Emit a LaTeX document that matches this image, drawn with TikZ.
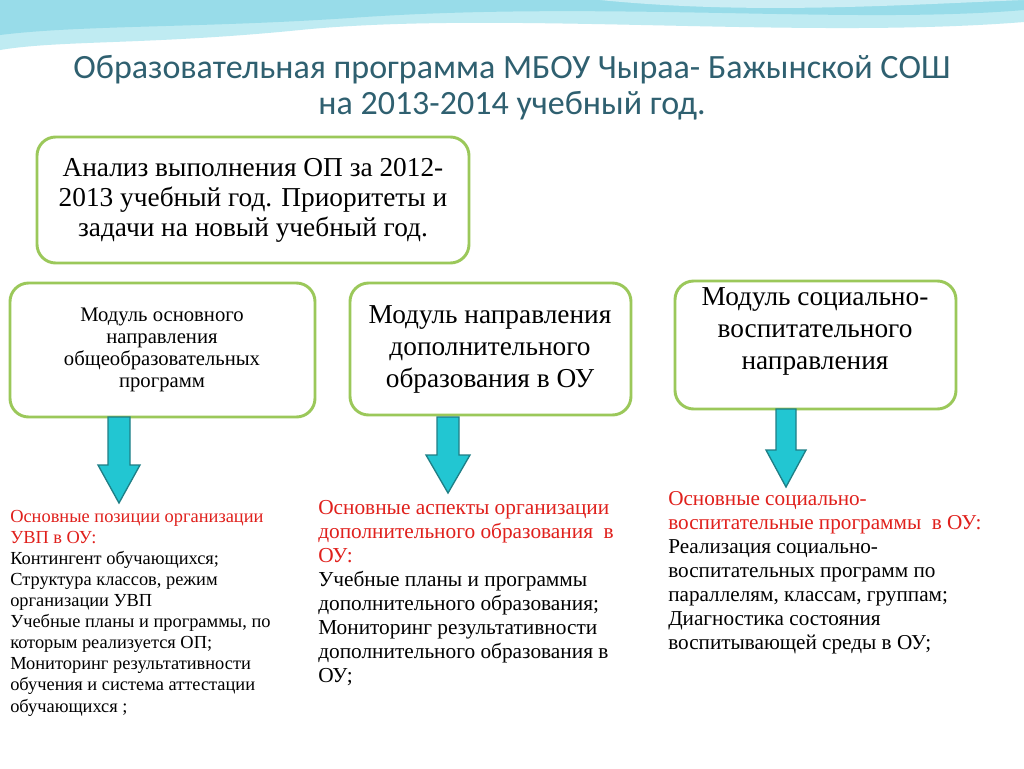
\documentclass[tikz,border=0pt]{standalone}
\usepackage{fontspec}
\setmainfont{Liberation Serif}
\newfontfamily\titlefont{Carlito}
\definecolor{boxgreen}{HTML}{9BC85A}
\definecolor{titlecol}{HTML}{2F6070}
\definecolor{arrfill}{HTML}{22C6D2}
\definecolor{arrline}{HTML}{1F7F86}
\definecolor{wave1}{HTML}{BFEBF2}
\definecolor{wave2}{HTML}{7FD3E3}
\definecolor{redtxt}{HTML}{E0201C}
\tikzset{
  mbox/.style={draw=boxgreen,line width=2.2pt,rounded corners=14pt,fill=white},
  barrow/.style={fill=arrfill,draw=arrline,line width=1pt},
  btext/.style={anchor=north west,align=left,inner sep=0pt}
}
\begin{document}
\begin{tikzpicture}[x=0.75pt,y=-0.75pt]
\useasboundingbox (0,0) rectangle (1024,768);
\fill[white] (0,0) rectangle (1024,768);
% header waves
\fill[wave1] (0,0) -- (1024,0) -- (1024,22) .. controls (800,40) and (500,10) .. (300,30) .. controls (150,45) and (60,40) .. (0,50) -- cycle;
\fill[wave2,opacity=0.6] (0,0) -- (1024,0) -- (1024,10) .. controls (850,25) and (600,0) .. (350,18) .. controls (200,28) and (80,25) .. (0,35) -- cycle;
\fill[white,opacity=0.5] (600,0) .. controls (750,15) and (900,5) .. (1024,0) -- cycle;
% title
\node[font=\titlefont\fontsize{25.5}{27}\selectfont,text=titlecol,align=center] (title) at (512,88) {Образовательная программа МБОУ Чыраа- Бажынской СОШ\\на 2013-2014 учебный год.};
% boxes
\draw[mbox] (37,137) rectangle (469,263);
\node[align=center,font=\fontsize{20.5}{22.5}\selectfont] (b1) at (253,200) {Анализ выполнения ОП за 2012-\\2013 учебный год. Приоритеты и\\задачи на новый учебный год.};
\draw[mbox] (10,283) rectangle (315,417);
\node[align=center,font=\fontsize{15.5}{16.5}\selectfont] (b2) at (162,350) {Модуль основного\\направления\\общеобразовательных\\программ};
\draw[mbox] (350,283) rectangle (631,415);
\node[align=center,font=\fontsize{20.5}{24}\selectfont] (b3) at (490,349) {Модуль направления\\дополнительного\\образования в ОУ};
\draw[mbox] (675,281) rectangle (956,409);
\node[align=center,font=\fontsize{20.5}{24}\selectfont] (b4) at (815,331) {Модуль социально-\\воспитательного\\направления};
% block arrows
\draw[barrow] (108,417) -- (130,417) -- (130,465) -- (140,465) -- (119,503) -- (98,465) -- (108,465) -- cycle;
\draw[barrow] (437,417) -- (459,417) -- (459,455) -- (470,455) -- (448,493) -- (426,455) -- (437,455) -- cycle;
\draw[barrow] (776,409) -- (796,409) -- (796,450) -- (806,450) -- (786,487) -- (766,450) -- (776,450) -- cycle;
% texts
\node[btext,font=\fontsize{13.8}{15.8}\selectfont] (t1) at (10,510) {\textcolor{redtxt}{Основные позиции организации}\\\textcolor{redtxt}{УВП в ОУ:}\\Контингент обучающихся;\\Структура классов, режим\\организации УВП\\Учебные планы и программы, по\\которым реализуется ОП;\\Мониторинг результативности\\обучения и система аттестации\\обучающихся ;};
\node[btext,font=\fontsize{16}{18}\selectfont] (t2) at (318,500) {\textcolor{redtxt}{Основные аспекты организации}\\\textcolor{redtxt}{дополнительного образования\ \ в}\\\textcolor{redtxt}{ОУ:}\\Учебные планы и программы\\дополнительного образования;\\Мониторинг результативности\\дополнительного образования в\\ОУ;};
\node[btext,font=\fontsize{15.9}{18}\selectfont] (t3) at (668,491) {\textcolor{redtxt}{Основные социально-}\\\textcolor{redtxt}{воспитательные программы\ \ в ОУ:}\\Реализация социально-\\воспитательных программ по\\параллелям, классам, группам;\\Диагностика состояния\\воспитывающей среды в ОУ;};
\end{tikzpicture}
\end{document}
